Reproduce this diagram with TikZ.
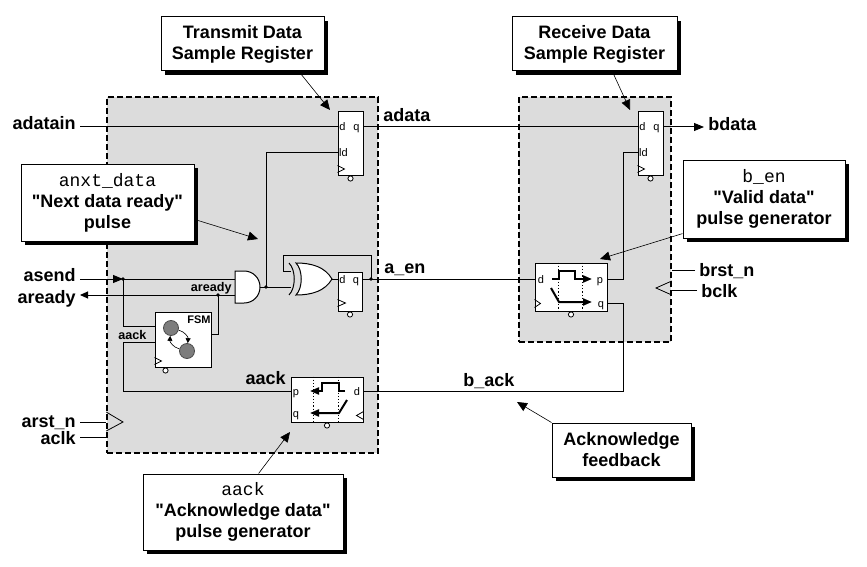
\documentclass[tikz,border=0pt]{standalone}
\usepackage{fontspec}
\setsansfont{Liberation Sans}
\setmonofont{Liberation Mono}
\usetikzlibrary{arrows.meta, calc, shadows}

\definecolor{domaingray}{RGB}{220,220,220}
\definecolor{stategray}{RGB}{125,125,125}

\tikzset{
  clockdomain/.style={draw, fill=domaingray, line width=0.75pt, dash pattern=on 3pt off 1.5pt, inner sep=0pt},
  block/.style={draw, fill=white, line width=0.5pt, inner sep=0pt},
  pinlabel/.style={font=\sffamily\fontsize{5.5}{6}\selectfont, inner sep=0pt, text height=4pt, text depth=0pt},
  sig/.style={font=\sffamily\bfseries\fontsize{9}{10.5}\selectfont, inner xsep=2pt, inner ysep=0pt},
  tinylabel/.style={font=\sffamily\bfseries\fontsize{6.3}{7}\selectfont, inner sep=0pt},
  notebox/.style={draw, fill=white, line width=0.5pt, align=center, inner sep=0pt,
    font=\sffamily\bfseries\fontsize{9}{10.5}\selectfont,
    drop shadow={shadow xshift=2pt, shadow yshift=-2pt, fill=black, opacity=1}},
  wire/.style={line width=0.5pt},
  pointer/.style={line width=0.3pt, -{Triangle[length=5pt,width=4.5pt]}},
  bubble/.style={circle, draw, fill=white, line width=0.4pt, inner sep=0pt, minimum size=2.6pt},
  pulse/.style={line width=1pt, -{Triangle[length=4.5pt,width=3.5pt]}},
  gridline/.style={line width=0.6pt, densely dotted},
  state/.style={circle, draw=black!70, fill=stategray, line width=0.4pt, inner sep=0pt, minimum size=7.5pt}
}

\begin{document}
\begin{tikzpicture}[x=0.5pt, y=-0.5pt]
  \fill[white] (0,0) rectangle (867,567);
  \useasboundingbox (0,0) rectangle (867,567);

  % clock domains
  \node[clockdomain, minimum width=135.5pt, minimum height=178pt] (txdom) at (242.5,275) {};
  \node[clockdomain, minimum width=76pt, minimum height=122.5pt] (rxdom) at (595,219.5) {};

  % signal labels
  \node[sig, anchor=base east] (adatain) at (80,130) {adatain};
  \node[sig, anchor=base east] (asend) at (80,281) {asend};
  \node[sig, anchor=base east] (aready) at (80,303) {aready};
  \node[sig, anchor=base east] (arstn) at (80,427) {arst\_n};
  \node[sig, anchor=base east] (aclk) at (80,444) {aclk};
  \node[sig, anchor=base west] (adata) at (379,121) {adata};
  \node[sig, anchor=base west] (aen) at (380,273) {a\_en};
  \node[sig, anchor=base west] (back) at (459,386) {b\_ack};
  \node[sig, anchor=base east] (aack) at (290,384) {aack};
  \node[sig, anchor=base west] (bdata) at (704,131) {bdata};
  \node[sig, anchor=base west] (brstn) at (695,276) {brst\_n};
  \node[sig, anchor=base west] (bclk) at (697,297) {bclk};
  \node[tinylabel, anchor=base east] (areadysmall) at (232,291) {aready};
  \node[tinylabel, anchor=base west] (aacksmall) at (118,339) {aack};

  % registers and blocks
  \node[block, minimum width=12.5pt, minimum height=31.5pt] (regT) at (350.5,143.5) {};
  \node[block, minimum width=12.5pt, minimum height=31.5pt] (regR) at (650.5,143.5) {};
  \node[block, minimum width=12pt, minimum height=19.5pt] (regE) at (350,291.5) {};
  \node[block, minimum width=28pt, minimum height=27.5pt] (fsm) at (183,339.5) {};
  \node[block, minimum width=36pt, minimum height=22.5pt] (pgA) at (327,399.5) {};
  \node[block, minimum width=36pt, minimum height=24pt] (pgB) at (571,287) {};

  \node[pinlabel] (regT-d) at (342.5,127) {d};
  \node[pinlabel] (regT-q) at (356.5,127) {q};
  \node[pinlabel] (regT-ld) at (343.5,152) {ld};
  \node[pinlabel] (regR-d) at (642.5,127) {d};
  \node[pinlabel] (regR-q) at (656.5,127) {q};
  \node[pinlabel] (regR-ld) at (643.5,152) {ld};
  \node[pinlabel] (regE-d) at (342.5,279) {d};
  \node[pinlabel] (regE-q) at (356,279) {q};
  \node[pinlabel] (pgB-d) at (541,279) {d};
  \node[pinlabel] (pgB-p) at (600,279) {p};
  \node[pinlabel] (pgB-q) at (601,303) {q};
  \node[pinlabel] (pgA-p) at (296,391) {p};
  \node[pinlabel] (pgA-q) at (296,413) {q};
  \node[pinlabel] (pgA-d) at (357,391) {d};

  % clock inputs
  \draw[line width=0.4pt] ($(regT.south west)+(0,-10)$) -- ++(7,3.5) -- ++(-7,3.5);
  \draw[line width=0.4pt] ($(regR.south west)+(0,-10)$) -- ++(7,3.5) -- ++(-7,3.5);
  \draw[line width=0.4pt] ($(regE.south west)+(0,-12)$) -- ++(8,3.5) -- ++(-8,3.5);
  \draw[line width=0.4pt] ($(fsm.south west)+(0,-10)$) -- ++(7,3.5) -- ++(-7,3.5);
  \draw[line width=0.4pt] ($(pgB.south west)+(0,-12)$) -- ++(6,4) -- ++(-6,4);
  \draw[line width=0.4pt] ($(pgA.south east)+(0,-11)$) -- ++(-7,4) -- ++(7,4);
  \draw[line width=0.4pt] (txdom.west |- 0,412) -- (123,422) -- (txdom.west |- 0,431);
  \draw[line width=0.4pt] (rxdom.east |- 0,281) -- (656,288) -- (rxdom.east |- 0,295);

  % reset bubbles
  \node[bubble] (regT-rst) at ($(regT.south)+(0,3)$) {};
  \node[bubble] (regR-rst) at ($(regR.south)+(0,3)$) {};
  \node[bubble] (regE-rst) at ($(regE.south)+(0,3)$) {};
  \node[bubble] (fsm-rst) at ($(fsm.south west)+(11,3)$) {};
  \node[bubble] (pgA-rst) at ($(pgA.south)+(0,3)$) {};
  \node[bubble] (pgB-rst) at ($(pgB.south)+(0,3)$) {};

  % and gate
  \draw[block] (235,271) -- (244,271) .. controls (253,271) and (260,278) .. (260,287)
    .. controls (260,296) and (253,303) .. (244,303) -- (235,303) -- cycle;
  \coordinate (and-in1) at (235,279);
  \coordinate (and-in2) at (235,295);
  \coordinate (and-out) at (260,287);

  % xor gate
  \draw[line width=0.5pt] (289,263) .. controls (296,270) and (296,288) .. (289,295);
  \draw[block] (296,263) .. controls (303,270) and (303,288) .. (296,295)
    .. controls (312,295) and (325,291) .. (332,279)
    .. controls (325,267) and (312,263) .. (296,263) -- cycle;
  \coordinate (xor-in1) at (291,271);
  \coordinate (xor-in2) at (291,287);
  \coordinate (xor-out) at (332,279);

  % fsm inside
  \node[state] (st1) at (171,328) {};
  \node[state] (st2) at (187,351) {};
  \draw[line width=0.3pt, -{Triangle[length=2.5pt,width=2.5pt]}] (st1) to[bend left=40] (st2);
  \draw[line width=0.3pt, -{Triangle[length=2.5pt,width=2.5pt]}] (st2) to[bend left=40] (st1);
  \node[tinylabel, font=\sffamily\bfseries\fontsize{5.5}{6}\selectfont] (fsmname) at (199,320) {FSM};
  \coordinate (fsm-in1) at ($(fsm.north west)+(0,15)$);
  \coordinate (fsm-in2) at ($(fsm.north west)+(0,31)$);
  \coordinate (fsm-out) at ($(fsm.north east)+(0,23)$);

  % pulse generators
  \draw[gridline] ($(pgB.north west)+(24,0)$) -- ($(pgB.south west)+(24,0)$);
  \draw[gridline] ($(pgB.north west)+(48,0)$) -- ($(pgB.south west)+(48,0)$);
  \draw[pulse] (552,279) -- (559,279) -- (559,271) -- (575,271) -- (575,279) -- (592,279);
  \draw[pulse] (551,288) -- (559,302) -- (592,302);
  \draw[gridline] ($(pgA.north west)+(23,0)$) -- ($(pgA.south west)+(23,0)$);
  \draw[gridline] ($(pgA.north west)+(48,0)$) -- ($(pgA.south west)+(48,0)$);
  \draw[pulse] (345,391) -- (339,391) -- (339,383) -- (322,383) -- (322,391) -- (310,391);
  \draw[pulse] (347,400) -- (339,413) -- (310,413);

  % wires
  \coordinate (ja) at (123,279);
  \coordinate (jr) at (218,295);
  \coordinate (jl) at (266,287);
  \coordinate (je) at (371,279);
  \coordinate (loop) at (283,255);

  \draw[wire] (adatain.east |- regT-d) -- (regT.west |- regT-d);
  \draw[wire] (regT.east |- regT-q) -- (regR.west |- regR-d);
  \draw[wire, -{Triangle[length=5pt,width=4pt]}] (regR.east |- regR-q) -- (bdata.west |- regR-q);
  \draw[wire, -{Triangle[length=5pt,width=4pt]}] (asend.east |- ja) -- (ja);
  \draw[wire] (ja) -- (and-in1);
  \draw[wire, -{Triangle[length=4pt,width=3.5pt]}] (and-in2) -- (aready.east |- and-in2);
  \draw[wire] (ja) |- (fsm-in1);
  \draw[wire] (fsm-out) -| (jr);
  \draw[wire] (fsm-in2) -- (fsm-in2 -| ja) |- (pgA.west |- pgA-p);
  \draw[wire] (and-out) -- (xor-in2);
  \draw[wire] (jl) |- (regT.west |- regT-ld);
  \draw[wire] (xor-out) -- (regE.west |- regE-d);
  \draw[wire] (regE.east |- regE-q) -- (pgB.west |- pgB-d);
  \draw[wire] (je) |- (loop) |- (xor-in1);
  \draw[wire] (pgB.east |- pgB-p) -- ++(16,0) |- (regR.west |- regR-ld);
  \draw[wire] (pgB.east |- pgB-q) -- ++(16,0) |- (pgA.east |- pgA-d);
  \draw[wire] (arstn.east) -- (txdom.west |- arstn.east);
  \draw[wire] (aclk.east) -- (txdom.west |- aclk.east);
  \draw[wire] (brstn.west) -- (rxdom.east |- brstn.west);
  \draw[wire] (bclk.west) -- (rxdom.east |- bclk.west);
  \fill (ja) circle (1.8);
  \fill (jr) circle (1.8);
  \fill (jl) circle (1.8);
  \fill (je) circle (1.8);

  % callouts
  \node[notebox, minimum width=81.5pt, minimum height=27pt] (txnote) at (242.5,44) {Transmit Data\\Sample Register};
  \node[notebox, minimum width=82.5pt, minimum height=27pt] (rxnote) at (594.5,44) {Receive Data\\Sample Register};
  \node[notebox, minimum width=86.5pt, minimum height=38.5pt] (nxtnote) at (107.5,202.5) {{\ttfamily\mdseries anxt\_data}\\\textquotedbl Next data ready\textquotedbl\\pulse};
  \node[notebox, minimum width=81pt, minimum height=39pt] (ennote) at (764,199) {{\ttfamily\mdseries b\_en}\\\textquotedbl Valid data\textquotedbl\\pulse generator};
  \node[notebox, minimum width=100pt, minimum height=38pt] (acknote) at (243,512) {{\ttfamily\mdseries aack}\\\textquotedbl Acknowledge data\textquotedbl\\pulse generator};
  \node[notebox, minimum width=69.5pt, minimum height=27pt] (fbnote) at (621.5,450) {Acknowledge\\feedback};

  \coordinate (txtip) at (330,110);
  \coordinate (rxtip) at (630,110);
  \coordinate (nxttip) at (258,239);
  \coordinate (entip) at (600,259);
  \coordinate (acktip) at (290,432);
  \coordinate (fbtip) at (517,402);
  \draw[pointer] (txnote.-26) -- (txtip);
  \draw[pointer] (rxnote.-57) -- (rxtip);
  \draw[pointer] (nxtnote.-11) -- (nxttip);
  \draw[pointer] (ennote.203) -- (entip);
  \draw[pointer] (acknote.68) -- (acktip);
  \draw[pointer] (fbnote.north west) -- (fbtip);
\end{tikzpicture}
\end{document}
